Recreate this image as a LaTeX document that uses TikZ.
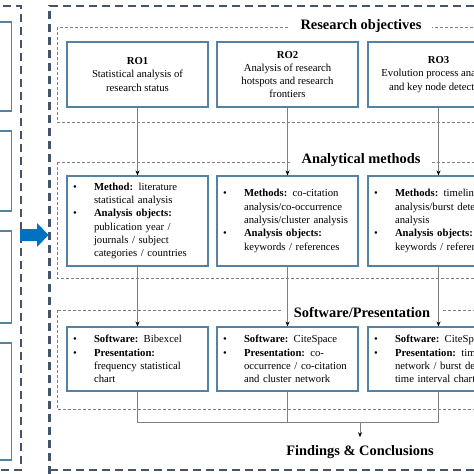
\documentclass[tikz,border=0pt]{standalone}
\usepackage{fontspec}
\setmainfont{Liberation Serif}
\usepackage{tikz}
\usetikzlibrary{arrows.meta,positioning,calc}
\definecolor{boxblue}{RGB}{84,130,163}
\definecolor{framedark}{RGB}{68,84,106}
\definecolor{arrowblue}{RGB}{0,112,192}
\definecolor{linegray}{RGB}{128,128,128}
\newcommand{\bitem}[1]{\mbox{\makebox[21pt][l]{\textbullet}#1}}
\newcommand{\bcont}[1]{\mbox{\hspace*{21pt}#1}}

\begin{document}
\begin{tikzpicture}[x=1pt, y=-1pt, >=Stealth,
  bodyfont/.style={font=\fontsize{10.7}{13.3}\selectfont},
  robox/.style={draw=boxblue, line width=1.1pt, bodyfont, minimum width=141pt, minimum height=65pt, align=center, inner sep=0pt},
  listbox/.style={draw=boxblue, line width=1.1pt, bodyfont, text width=129pt, inner xsep=6pt, inner ysep=0pt, align=left},
  grpbox/.style={draw=linegray, line width=0.7pt, dash pattern=on 3pt off 2pt},
  grptitle/.style={fill=white, inner xsep=11pt, inner ysep=1pt, font=\fontsize{14.4}{16}\selectfont\bfseries},
  outerframe/.style={draw=framedark, line width=2.2pt, dash pattern=on 8pt off 5pt},
  conn/.style={draw=linegray, line width=0.8pt},
  arrowend/.style={-{Stealth[length=5pt,width=4pt,color=black]}}
]
  \useasboundingbox (0,0) rectangle (474,474);
  \clip (0,0) rectangle (474,474);

  % Left column: boxes cut off at the edge
  \draw[draw=boxblue, line width=1.1pt] (-20,22) rectangle (11.5,111);
  \draw[draw=boxblue, line width=1.1pt] (-20,131) rectangle (11.5,211);
  \draw[draw=boxblue, line width=1.1pt] (-20,231) rectangle (11.5,323);
  \draw[draw=boxblue, line width=1.1pt] (-20,343) rectangle (11.5,460);
  \draw[outerframe] (-10,6) -- (21,6) -- (21,470) -- (-10,470);

  % Right frame
  \draw[outerframe] (49.5,500) -- (49.5,6) -- (500,6);
  \draw[outerframe] (49.5,470) -- (500,470);

  % Blue arrow between the two frames
  \fill[arrowblue] (20,229) -- (37,229) -- (37,223) -- (48.5,235) -- (37,247)
    -- (37,241) -- (20,241) -- cycle;

  % Group frames
  \draw[grpbox] (57,27) rectangle (500,122);
  \draw[grpbox] (57,162) rectangle (500,278);
  \draw[grpbox] (57,310) rectangle (500,409);
  \node[grptitle] (tro) at (361,26) {Research objectives};
  \node[grptitle] (tam) at (361,160) {Analytical methods};
  \node[grptitle] (tsw) at (362,312) {Software/Presentation};

  % Research objectives
  \node[robox] (ro1) at (137.5,74.5) {\textbf{RO1}\\Statistical analysis of\\research status};
  \node[robox] (ro2) at (287.5,74.5) {\textbf{RO2}\\Analysis of research\\hotspots and research\\frontiers};
  \node[robox] (ro3) at (438.5,74.5) {\textbf{RO3}\\Evolution process analysis\\and key node detection};

  % Analytical methods
  \node[listbox, minimum height=90pt] (am1) at (137.5,221) {\bitem{\textbf{Method:} literature}\\\bcont{statistical analysis}\\\bitem{\textbf{Analysis objects:}}\\\bcont{publication year /}\\\bcont{journals / subject}\\\bcont{categories / countries}};
  \node[listbox, minimum height=90pt] (am2) at (287.5,221) {\bitem{\textbf{Methods:} co-citation}\\\bcont{analysis/co-occurrence}\\\bcont{analysis/cluster analysis}\\\bitem{\textbf{Analysis objects:}}\\\bcont{keywords / references}};
  \node[listbox, minimum height=90pt] (am3) at (438.5,221) {\bitem{\textbf{Methods:} timeline}\\\bcont{analysis/burst detection}\\\bcont{analysis}\\\bitem{\textbf{Analysis objects:}}\\\bcont{keywords / references}};

  % Software/Presentation
  \node[listbox, minimum height=64pt] (sw1) at (137.5,359) {\bitem{\textbf{Software:} Bibexcel}\\\bitem{\textbf{Presentation:}}\\\bcont{frequency statistical}\\\bcont{chart}};
  \node[listbox, minimum height=64pt] (sw2) at (287.5,359) {\bitem{\textbf{Software:} CiteSpace}\\\bitem{\textbf{Presentation:} co-}\\\bcont{occurrence / co-citation}\\\bcont{and cluster network}};
  \node[listbox, minimum height=64pt] (sw3) at (438.5,359) {\bitem{\textbf{Software:} CiteSpace}\\\bitem{\textbf{Presentation:} timeline}\\\bcont{network / burst detection /}\\\bcont{time interval chart}};

  % Connectors
  \draw[conn, arrowend] (ro1) -- (am1);
  \draw[conn, arrowend] (ro2) -- (am2);
  \draw[conn, arrowend] (ro3) -- (am3);
  \draw[conn, arrowend] (am1) -- (sw1);
  \draw[conn, arrowend] (am2) -- (sw2);
  \draw[conn, arrowend] (am3) -- (sw3);

  % Findings
  \coordinate (join) at (360,422);
  \node[font=\fontsize{14.4}{16}\selectfont\bfseries, inner xsep=2pt, inner ysep=8pt] (fc) at (360,452) {Findings \& Conclusions};
  \draw[conn] (sw1.south) |- (join);
  \draw[conn] (sw3.south) |- (join);
  \draw[conn] (sw2.south) -- (sw2.south |- join);
  \draw[conn, arrowend] (join) -- (fc);
\end{tikzpicture}
\end{document}
